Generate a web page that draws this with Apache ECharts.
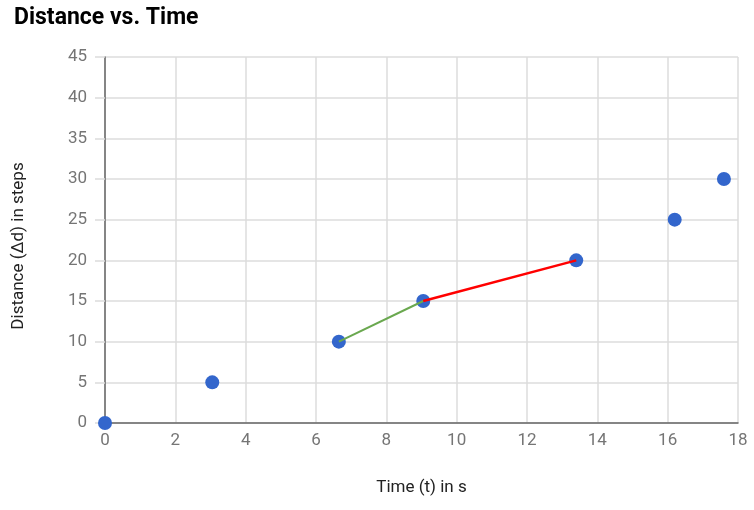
<!DOCTYPE html>
<html>
<head>
<meta charset="utf-8">
<script src="https://cdn.jsdelivr.net/npm/echarts@6/dist/echarts.min.js"></script>
<style>html,body{margin:0;padding:0;background:#fff;}#c{width:754px;height:510px;}</style>
</head>
<body>
<div id="c"></div>
<script>
var timeValues = [0, 3.05, 6.65, 9.05, 13.4, 16.2, 17.6];
var distanceValues = [0, 5, 10, 15, 20, 25, 30];
var greenSegment = [[6.65, 10], [9.05, 15]];
var redSegment = [[9.05, 15], [13.4, 20]];

var points = timeValues.map(function (t, i) { return [t, distanceValues[i]]; });
var chart = echarts.init(document.getElementById('c'));
var labelColor = '#757575';
chart.setOption({
  animation: false,
  textStyle: { fontFamily: 'Roboto' },
  title: {
    text: 'Distance vs. Time', left: 9, top: 2,
    textStyle: { fontFamily: 'Roboto', fontSize: 23, fontWeight: 'bold', color: '#000' }
  },
  grid: { left: 105, right: 16, top: 57, bottom: 87 },
  xAxis: {
    type: 'value', min: 0, max: 18, interval: 2,
    name: 'Time (t) in s', nameLocation: 'middle', nameGap: 56,
    nameTextStyle: { color: '#222', fontSize: 17 },
    axisLine: { onZero: false, lineStyle: { color: '#666', width: 1.5 } },
    axisTick: { show: false },
    axisLabel: { color: labelColor, fontSize: 17, margin: 9 },
    splitLine: { show: true, lineStyle: { color: '#dcdcdc', width: 1.5 } }
  },
  yAxis: {
    type: 'value', min: 0, max: 45, interval: 5,
    name: 'Distance (\u0394d) in steps', nameLocation: 'middle', nameGap: 78,
    nameTextStyle: { color: '#222', fontSize: 17, padding: [0, 12, 0, 0] },
    axisLine: { show: true, lineStyle: { color: '#666', width: 1.5 } },
    axisTick: { show: true, length: 10, lineStyle: { color: '#dcdcdc', width: 1.5 } },
    axisLabel: { color: labelColor, fontSize: 17, margin: 18 },
    splitLine: { show: true, lineStyle: { color: '#dcdcdc', width: 1.5 } }
  },
  series: [
    { type: 'scatter', data: points, symbolSize: 14, itemStyle: { color: '#3366cc', opacity: 1 }, z: 2 },
    { type: 'line', data: greenSegment, showSymbol: false, symbol: 'none', lineStyle: { color: '#6aa84f', width: 2 }, z: 3 },
    { type: 'line', data: redSegment, showSymbol: false, symbol: 'none', lineStyle: { color: '#ff0000', width: 2.5 }, z: 3 }
  ]
});
</script>
</body>
</html>
